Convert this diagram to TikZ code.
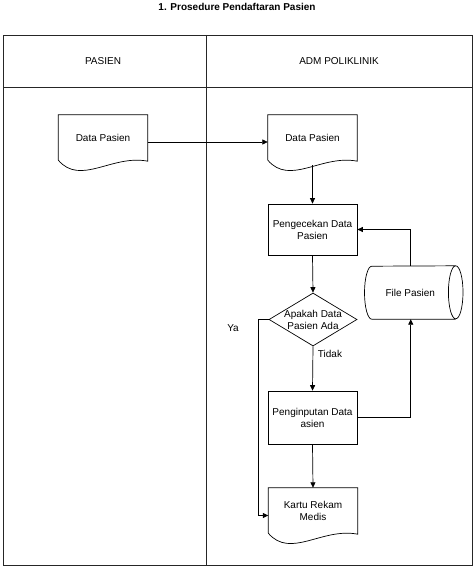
\documentclass[tikz,border=0pt]{standalone}
\usepackage{fontspec}
\setmainfont{Liberation Sans}
\usetikzlibrary{arrows.meta,calc,shapes.geometric}
\tikzset{
  frameline/.style={draw=black!85, line width=0.9pt},
  shapeline/.style={draw=black, line width=0.7pt},
  txt/.style={font=\fontsize{10}{12}\selectfont, align=center, inner sep=0pt},
  procbox/.style={shapeline, rectangle, minimum width=89pt, txt},
  docbox/.style={rectangle, minimum width=89pt, minimum height=45pt, txt},
  decbox/.style={shapeline, diamond, minimum width=88pt, minimum height=53pt, inner sep=0pt},
  flow/.style={shapeline, -{Triangle[length=5.5pt,width=5pt]}},
}
\newcommand\docoutline[1]{%
  \draw[shapeline] (#1.south west) -- (#1.north west) -- (#1.north east) -- ($(#1.south east)+(0,1)$)
    .. controls ($(#1.south east)+(-35.6,-6)$) and ($(#1.south west)+(22.3,26)$) .. (#1.south west);}
\begin{document}
\begin{tikzpicture}[x=1pt,y=-1pt]
\useasboundingbox (0,0) rectangle (474,567);
% title
\node[font=\fontsize{10}{12}\selectfont\bfseries, inner sep=0pt] (title) at (237,7) {1. Prosedure Pendaftaran Pasien};
% swimlane frame
\draw[frameline] (3,35) rectangle (472,565);
\draw[frameline] (3,87) -- (472,87);
\draw[frameline] (206,35) -- (206,565);
\node[txt] (lane1) at (103,61) {PASIEN};
\node[txt] (lane2) at (339,61) {ADM POLIKLINIK};
% documents
\node[docbox] (d1) at (103,137.5) {Data Pasien};
\docoutline{d1}
\node[docbox] (d2) at (312.5,137.5) {Data Pasien};
\docoutline{d2}
\node[docbox] (km) at (313,510.5) {Kartu Rekam\\Medis};
\docoutline{km}
% processes
\node[procbox, minimum height=51pt] (pc) at (312.5,229.5) {Pengecekan Data\\Pasien};
\node[decbox] (dec) at (313,319.5) {};
\node[txt] at (dec.center) {Apakah Data\\Pasien Ada};
\node[procbox, minimum height=53pt] (pi) at (312.5,417.5) {Penginputan Data\\asien};
% stored data (cylinder)
\node[rectangle, minimum width=83.5pt, minimum height=53pt, txt] (fp) at (413.75,292.5) {\hspace*{-7pt}File Pasien};
\draw[shapeline] (fp.south east) -- (fp.south west)
  arc[start angle=270, end angle=90, x radius=7.3pt, y radius=26.5pt]
  -- (fp.north east)
  arc[start angle=90, end angle=-270, x radius=7.3pt, y radius=26.5pt];
% connectors
\draw[flow] ([yshift=-4.5pt]d1.east) -- ([yshift=-4.5pt]d2.west);
\draw[flow] ($(d2.south)+(0,5)$) -- (pc.north);
\draw[flow] (pc.south) -- (dec.north);
\draw[flow] (dec.south) -- (pi.north);
\draw[flow] (pi.south) -- (km.north);
\draw[flow] ($(fp.north)+(-3,0)$) |- (pc.east);
\draw[flow] (pi.east) -| ($(fp.south)+(-3,0)$);
\draw[flow] (dec.west) -- ++(-10,0) |- ([yshift=-5pt]km.west);
% labels
\node[txt] (ya) at (233,328) {Ya};
\node[txt] (tidak) at (330,354) {Tidak};
\end{tikzpicture}
\end{document}
